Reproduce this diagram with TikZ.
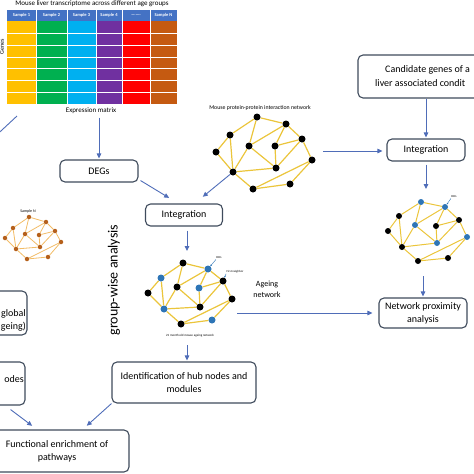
\documentclass[tikz,border=0pt]{standalone}
\usepackage{fontspec}
\setmainfont{Carlito}
\usetikzlibrary{arrows.meta}
\usetikzlibrary{calc}
\usetikzlibrary{backgrounds}

\definecolor{flowblue}{HTML}{4F6DB8}
\definecolor{boxgray}{HTML}{3F4B5C}
\definecolor{linkgold}{HTML}{EBC53B}
\definecolor{degblue}{HTML}{2E75B6}
\definecolor{sampledot}{HTML}{B5601B}
\definecolor{samplelink}{HTML}{F2BC66}
\definecolor{headblue}{HTML}{4472C4}
\definecolor{colgold}{HTML}{FFC000}
\definecolor{colgreen}{HTML}{00B050}
\definecolor{colsky}{HTML}{00B0F0}
\definecolor{colpurple}{HTML}{7030A0}
\definecolor{colred}{HTML}{FF0000}
\definecolor{colbrown}{HTML}{C55A11}

\newcommand{\netlinks}{A/B,A/C,A/E,B/E,B/F,B/D,C/G,C/I,G/I,E/I,E/J,F/J,F/D,D/H,D/J,I/J,I/K,K/L,K/H,L/H}

\tikzset{
  stepbox/.style={draw=boxgray, line width=1.1pt, rounded corners=5pt, fill=white, align=center, inner sep=0pt, font=\fontsize{10}{13}\selectfont},
  boxtext/.style={inner sep=0pt, font=\fontsize{10}{13}\selectfont},
  flow/.style={draw=flowblue, line width=0.9pt, -{Triangle[length=5pt,width=4.5pt]}, shorten >=1pt},
  netdot/.style={circle, fill=black, inner sep=0pt, minimum size=#1},
  netdot/.default=7pt,
  link/.style={draw=linkgold, line width=1.2pt},
  headtext/.style={text=white, inner sep=0pt, font=\bfseries\fontsize{4.5}{5}\selectfont},
  tinytext/.style={inner sep=0.3pt, font=\fontsize{3}{3.5}\selectfont},
  tinyarrow/.style={draw=degblue, line width=0.4pt, -{Triangle[length=1.5pt,width=1.5pt]}},
}

\begin{document}
\begin{tikzpicture}[x=1pt,y=-1pt]
\useasboundingbox (0,0) rectangle (474,474);
\clip (0,0) rectangle (474,474);

% expression matrix
\foreach \xa/\xb/\col/\hd in {7/36/colgold/Sample 1, 36/67/colgreen/Sample 2, 67/96/colsky/Sample 3, 96/122/colpurple/Sample 4, 122/150/colred/-------, 150/177/colbrown/Sample N} {
  \fill[\col] (\xa,21) rectangle (\xb,104);
  \fill[headblue] (\xa,10) rectangle (\xb,21);
  \node[headtext] (head\xa) at ({(\xa+\xb)/2},15.5) {\hd};
}
\foreach \r in {33,45,57,68,80,92} \draw[white, line width=0.6pt] (7,\r) -- (177,\r);
\foreach \c in {36,67,96,122,150} \draw[white, line width=0.6pt] (\c,10) -- (\c,104);
\node[font=\fontsize{7}{8}\selectfont] (mattitle) at (92,4) {Mouse liver transcriptome across different age groups};
\node[rotate=90, font=\fontsize{6}{7}\selectfont] (genes) at (2,47) {Genes};
\node[font=\fontsize{7}{8}\selectfont] (exprlabel) at (91,111) {Expression matrix};

\coordinate (leftfrom) at (17,116);
\coordinate (leftto) at (-12,143);
\draw[flow] (leftfrom) -- (leftto);

% boxes
\node[stepbox, minimum width=78, minimum height=22] (degs) at (99,171) {DEGs};
\node[stepbox, minimum width=77, minimum height=22] (integ) at (184,215) {Integration};
\node[stepbox, minimum width=78, minimum height=22] (integr) at (426,150) {Integration};
\node[stepbox, minimum width=152, minimum height=43] (cand) at (434,76.5) {};
\node[boxtext, anchor=west] (candone) at (385,70) {Candidate genes of a};
\node[boxtext, anchor=west] (candtwo) at (375,83) {liver associated condit};
\node[stepbox, minimum width=88, minimum height=30] (prox) at (423,313) {Network proximity\\analysis};
\node[stepbox, minimum width=144, minimum height=41] (hub) at (184,382.5) {Identification of hub nodes and\\modules};
\node[stepbox, minimum width=144, minimum height=42] (func) at (57,451) {Functional enrichment of\\pathways};
\node[stepbox, minimum width=67, minimum height=44] (glob) at (-6.5,313) {};
\node[boxtext, anchor=east, align=right] (globtext) at (26,320) {global\\geing)};
\node[stepbox, minimum width=65, minimum height=43] (hubleft) at (-7.5,383.5) {};
\node[boxtext, anchor=east] (hublefttext) at (24,379) {odes};

% protein-protein interaction network
\node[font=\fontsize{5.8}{6.5}\selectfont] (ppilabel) at (260,108) {Mouse protein-protein interaction network};
\foreach \n/\x/\y in {A/257/117, B/286/124, C/230/135, D/302/139, E/249/146, F/275/146, G/216/152, H/312/160, I/233/172, J/276/168, K/253/189, L/290/184}
  \node[netdot] (p\n) at (\x,\y) {};

% ageing network
\foreach \n/\x/\y/\c in {A/183/263/black, B/208/269/degblue, C/161/278/degblue, D/223/281/black, E/177/287/black, F/199/288/degblue, G/148/293/black, H/232/299/black, I/164/309/degblue, J/200/307/black, K/181/324/black, L/212/320/degblue}
  \node[netdot, fill=\c] (g\n) at (\x,\y) {};
\node[tinytext] (gdeg) at (219,258) {DEG};
\draw[tinyarrow] (gdeg.south west) -- (gB);
\node[tinytext] (gneigh) at (235,272) {First neighbor};
\draw[tinyarrow] (gneigh.south west) -- (gD);
\node[tinytext, font=\fontsize{3.2}{3.5}\selectfont] (agelabel) at (190,336) {21 month old mouse ageing network};
\node[align=center, font=\fontsize{8}{11}\selectfont] (agetext) at (267,289) {Ageing\\network};
\node[rotate=90, font=\fontsize{14}{16}\selectfont] (groupwise) at (114,280) {group-wise analysis};

% candidate network
\foreach \n/\x/\y/\c in {A/421/202/degblue, B/445/207/degblue, C/399/216/black, D/459/220/black, E/415/225/degblue, F/436/226/black, G/388/231/black, H/467/237/degblue, I/402/247/black, J/437/243/degblue, K/418/261/black, L/448/258/black}
  \node[netdot=6pt, fill=\c] (r\n) at (\x,\y) {};
\node[tinytext] (rdeg) at (454,197) {DEG};
\draw[tinyarrow] (rdeg.south west) -- (rB);

% sample network
\node[font=\fontsize{4}{4.5}\selectfont] (samplelabel) at (28,211) {Sample N};
\foreach \n/\x/\y in {A/29/217, B/46/222, C/13/228, D/55/231, E/25/234, F/39/235, G/5/238, H/61/242, I/16/249, J/40/247, K/27/259, L/48/257}
  \node[netdot=4.5pt, fill=sampledot] (s\n) at (\x,\y) {};

\begin{pgfonlayer}{background}
\foreach \a/\b in \netlinks {
  \draw[link] (p\a) -- (p\b);
  \draw[link] (g\a) -- (g\b);
  \draw[link, line width=1pt] (r\a) -- (r\b);
  \draw[draw=samplelink, line width=0.8pt] (s\a) -- (s\b);
}
\end{pgfonlayer}

% arrows
\coordinate (agetop) at (187,252);
\coordinate (agebottom) at (187,345);
\coordinate (ageout) at (237,313);
\coordinate (ppiout) at (323,151);
\coordinate (rtop) at (426,190);
\coordinate (rbottom) at (423,276);
\draw[flow] (exprlabel.south -| degs.north) -- (degs.north);
\draw[flow] ($(degs.south east)+(2,-2)$) -- ($(integ.north)+(-14,-5)$);
\draw[flow] (pI) -- ($(integ.north)+(18,-6)$);
\draw[flow] ($(integ.south)+(3,4)$) -- (agetop);
\draw[flow] (ppiout) -- ($(integr.west)+(-3,1)$);
\draw[flow] (cand.south -| integr.north) -- (integr.north);
\draw[flow] ($(integr.south)+(0,3)$) -- (rtop);
\draw[flow] (rbottom) -- (rbottom |- prox.north);
\draw[flow, shorten >=6pt] (ageout) -- (prox.west |- ageout);
\draw[flow] (agebottom) -- (agebottom |- hub.north);
\draw[flow] (hub.south west) -- ($(func.north)+(29,-3)$);
\draw[flow] ($(hubleft.south east)+(-15,4)$) -- ($(func.north)+(-24,-3)$);
\end{tikzpicture}
\end{document}
